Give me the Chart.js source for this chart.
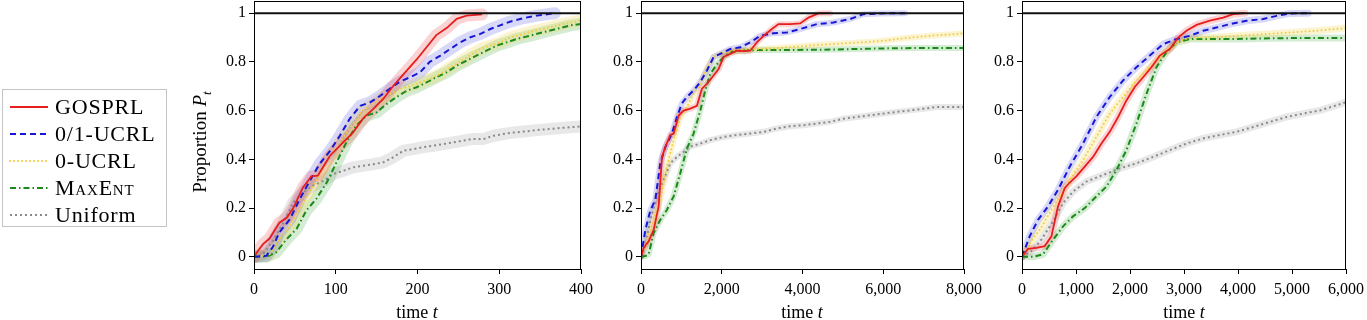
<!DOCTYPE html>
<html>
<head>
<meta charset="utf-8">
<script src="https://cdn.jsdelivr.net/npm/chart.js@4.4.1/dist/chart.umd.min.js"></script>
<style>
  body { margin: 0; background: #fff; }
  #wrap { position: relative; width: 1367px; height: 320px; overflow: hidden; font-family: "Liberation Serif", "DejaVu Serif", serif; }
  canvas { position: absolute; top: 0; }
  .xt { position: absolute; top: 302px; font-size: 18px; width: 200px; text-align: center; }
  .yt { position: absolute; font-size: 19px; white-space: nowrap; transform: translate(-50%, -50%) rotate(-90deg); }
  #legend { position: absolute; left: 2px; top: 89px; width: 165px; height: 138px; border: 1px solid #c4c4c4; box-sizing: border-box; }
  .item { position: absolute; left: 6px; height: 26px; font-size: 22px; letter-spacing: 0.8px; line-height: 26px; white-space: nowrap; }
  .item svg { position: absolute; left: 0; top: 8px; }
  .item span { position: absolute; left: 46px; top: 0; }
</style>
</head>
<body>
<div id="wrap">
  <canvas id="c1" width="420" height="320" style="left:190px"></canvas>
  <canvas id="c2" width="410" height="320" style="left:590px"></canvas>
  <canvas id="c3" width="392" height="320" style="left:975px"></canvas>
  <div class="yt" style="left:202px; top:142px">Proportion <i>P</i><sub style="font-size:13px"><i>t</i></sub></div>
  <div class="xt" style="left:317px">time <i>t</i></div>
  <div class="xt" style="left:702px">time <i>t</i></div>
  <div class="xt" style="left:1084px">time <i>t</i></div>
  <div id="legend"></div>
</div>
<script>
// series names, colours
const names = ['GOSPRL', '0/1-UCRL', '0-UCRL', 'MaxEnt', 'Uniform'];
const colors = ['#e81d1d', '#1717d4', '#f2cd3c', '#1b8a1b', '#8a8a8a'];
const bands = ['rgba(232,60,60,0.22)', 'rgba(40,40,220,0.18)', 'rgba(245,210,70,0.25)', 'rgba(40,160,40,0.2)', 'rgba(150,150,150,0.22)'];
const dashes = [[], [6, 4], [0, 4], [6, 3, 1.5, 3], [2, 3]];
const caps = ['butt', 'butt', 'round', 'butt', 'butt'];

const yTicks = [0, 0.2, 0.4, 0.6, 0.8, 1];
const p1Ticks = [0, 100, 200, 300, 400];
const p2Ticks = [0, 2000, 4000, 6000, 8000];
const p3Ticks = [0, 1000, 2000, 3000, 4000, 5000, 6000];
const target = 1;

// plot 1
const p1GosprlT = [0, 5, 11, 19, 31, 40, 48, 60, 70, 78, 93, 109, 121, 134, 146, 158, 170, 183, 199, 211, 223, 236, 248, 260, 279];
const p1GosprlY = [0, 0.025, 0.052, 0.075, 0.14, 0.16, 0.2, 0.285, 0.33, 0.333, 0.415, 0.47, 0.51, 0.57, 0.607, 0.648, 0.7, 0.75, 0.81, 0.86, 0.91, 0.94, 0.977, 0.99, 0.995];
const p1Ucrl01T = [0, 15, 23, 31, 44, 56, 68, 80, 93, 105, 117, 130, 142, 154, 166, 179, 191, 203, 215, 228, 240, 252, 264, 277, 289, 301, 313, 330, 346, 368];
const p1Ucrl01Y = [0, 0.004, 0.04, 0.1, 0.155, 0.237, 0.31, 0.38, 0.435, 0.497, 0.566, 0.62, 0.634, 0.66, 0.69, 0.72, 0.737, 0.757, 0.8, 0.826, 0.853, 0.88, 0.9, 0.915, 0.935, 0.95, 0.965, 0.98, 0.99, 1.0];
const p1Ucrl0T = [0, 19, 31, 44, 56, 68, 80, 93, 105, 117, 130, 142, 154, 166, 179, 191, 203, 215, 228, 240, 252, 264, 277, 289, 301, 313, 330, 346, 362, 379, 400];
const p1Ucrl0Y = [0, 0.01, 0.07, 0.127, 0.196, 0.264, 0.333, 0.408, 0.47, 0.525, 0.593, 0.62, 0.648, 0.668, 0.69, 0.7, 0.716, 0.73, 0.75, 0.778, 0.8, 0.826, 0.853, 0.867, 0.88, 0.9, 0.915, 0.93, 0.942, 0.956, 0.97];
const p1MaxentT = [0, 15, 27, 40, 52, 64, 76, 89, 101, 113, 125, 138, 150, 162, 174, 187, 199, 211, 223, 236, 248, 260, 272, 285, 297, 309, 322, 338, 354, 371, 387, 400];
const p1MaxentY = [0, 0, 0.018, 0.073, 0.114, 0.19, 0.237, 0.305, 0.388, 0.47, 0.538, 0.58, 0.593, 0.627, 0.655, 0.682, 0.696, 0.716, 0.737, 0.758, 0.785, 0.805, 0.826, 0.847, 0.867, 0.88, 0.895, 0.908, 0.922, 0.936, 0.95, 0.956];
const p1UniformT = [0, 11, 23, 36, 48, 60, 72, 85, 97, 109, 121, 134, 146, 158, 170, 183, 195, 207, 219, 232, 244, 256, 268, 281, 293, 305, 317, 330, 346, 362, 379, 400];
const p1UniformY = [0, 0.01, 0.066, 0.14, 0.223, 0.264, 0.292, 0.312, 0.34, 0.353, 0.367, 0.374, 0.38, 0.388, 0.408, 0.436, 0.442, 0.45, 0.456, 0.463, 0.47, 0.477, 0.484, 0.484, 0.497, 0.504, 0.51, 0.514, 0.52, 0.525, 0.53, 0.535];

// plot 2
const p2GosprlT = [0, 66, 190, 313, 437, 520, 602, 726, 808, 932, 1056, 1220, 1385, 1509, 1633, 1798, 1922, 2045, 2210, 2375, 2540, 2705, 2870, 3035, 3241, 3406, 3695, 3942, 4148, 4396, 4684];
const p2GosprlY = [0, 0.037, 0.064, 0.11, 0.207, 0.41, 0.45, 0.5, 0.506, 0.58, 0.6, 0.608, 0.62, 0.69, 0.71, 0.744, 0.771, 0.82, 0.833, 0.846, 0.844, 0.846, 0.88, 0.907, 0.935, 0.955, 0.955, 0.958, 0.982, 0.999, 1.0];
const p2Ucrl01T = [0, 107, 231, 355, 478, 602, 767, 891, 1014, 1138, 1303, 1468, 1633, 1798, 1963, 2210, 2458, 2705, 2952, 3282, 3612, 3942, 4354, 4767, 5179, 5509, 5921, 6540];
const p2Ucrl01Y = [0, 0.11, 0.19, 0.234, 0.384, 0.45, 0.506, 0.574, 0.63, 0.656, 0.683, 0.717, 0.765, 0.82, 0.833, 0.853, 0.86, 0.88, 0.907, 0.918, 0.921, 0.935, 0.955, 0.962, 0.976, 0.996, 0.999, 1.0];
const p2Ucrl0T = [0, 148, 313, 478, 643, 808, 973, 1138, 1303, 1468, 1633, 1798, 1963, 2210, 2540, 2870, 3365, 3860, 4519, 5179, 5839, 6499, 7158, 8000];
const p2Ucrl0Y = [0, 0.07, 0.152, 0.234, 0.37, 0.479, 0.574, 0.615, 0.67, 0.71, 0.778, 0.82, 0.833, 0.846, 0.849, 0.853, 0.857, 0.863, 0.871, 0.878, 0.884, 0.897, 0.907, 0.917];
const p2MaxentT = [0, 107, 190, 313, 478, 643, 808, 973, 1138, 1303, 1468, 1592, 1715, 1880, 2045, 2210, 2458, 2870, 3695, 4519, 5344, 6169, 6993, 8000];
const p2MaxentY = [0, 0.003, 0.01, 0.098, 0.152, 0.193, 0.248, 0.343, 0.445, 0.506, 0.6, 0.683, 0.751, 0.79, 0.82, 0.84, 0.846, 0.849, 0.849, 0.85, 0.853, 0.856, 0.857, 0.857];
const p2UniformT = [0, 107, 231, 396, 561, 726, 891, 1056, 1220, 1468, 1715, 2045, 2375, 2705, 3035, 3365, 3695, 4025, 4354, 4684, 5014, 5344, 5674, 6004, 6334, 6664, 6993, 7323, 8000];
const p2UniformY = [0, 0.044, 0.152, 0.248, 0.316, 0.384, 0.41, 0.431, 0.452, 0.465, 0.479, 0.492, 0.5, 0.506, 0.513, 0.527, 0.536, 0.54, 0.547, 0.554, 0.567, 0.574, 0.581, 0.588, 0.595, 0.601, 0.608, 0.615, 0.615];

// plot 3
const p3GosprlT = [0, 111, 266, 420, 544, 667, 791, 884, 1007, 1162, 1316, 1471, 1625, 1780, 1934, 2089, 2243, 2397, 2552, 2737, 2892, 3046, 3232, 3479, 3726, 3911, 4128];
const p3GosprlY = [0, 0.033, 0.037, 0.044, 0.084, 0.207, 0.282, 0.305, 0.33, 0.37, 0.41, 0.465, 0.513, 0.574, 0.642, 0.697, 0.737, 0.778, 0.826, 0.853, 0.9, 0.928, 0.952, 0.969, 0.982, 0.996, 1.0];
const p3Ucrl01T = [0, 142, 297, 482, 667, 884, 1131, 1378, 1625, 1872, 2119, 2367, 2614, 2861, 3108, 3355, 3602, 3849, 4159, 4467, 4715, 4962, 5301];
const p3Ucrl01Y = [0, 0.084, 0.152, 0.207, 0.275, 0.37, 0.465, 0.574, 0.656, 0.724, 0.778, 0.826, 0.873, 0.894, 0.907, 0.928, 0.941, 0.955, 0.969, 0.976, 0.989, 0.999, 1.0];
const p3Ucrl0T = [0, 173, 327, 513, 698, 884, 1131, 1378, 1625, 1872, 2119, 2367, 2614, 2861, 3108, 3479, 3973, 4467, 4962, 5456, 6000];
const p3Ucrl0Y = [0, 0.064, 0.11, 0.18, 0.248, 0.316, 0.397, 0.493, 0.588, 0.656, 0.724, 0.778, 0.833, 0.88, 0.9, 0.9, 0.907, 0.914, 0.921, 0.928, 0.939];
const p3MaxentT = [0, 204, 389, 575, 760, 945, 1162, 1378, 1563, 1749, 1934, 2119, 2305, 2490, 2675, 2861, 3108, 3479, 3973, 4591, 5209, 6000];
const p3MaxentY = [0, 0, 0.01, 0.07, 0.125, 0.166, 0.2, 0.248, 0.288, 0.356, 0.438, 0.547, 0.669, 0.778, 0.84, 0.88, 0.894, 0.894, 0.894, 0.897, 0.898, 0.898];
const p3UniformT = [0, 173, 358, 575, 760, 945, 1193, 1502, 1810, 2119, 2428, 2737, 3046, 3355, 3664, 3973, 4282, 4591, 4900, 5209, 5518, 5827, 6000];
const p3UniformY = [0, 0.023, 0.07, 0.146, 0.22, 0.268, 0.309, 0.336, 0.363, 0.384, 0.41, 0.438, 0.465, 0.486, 0.5, 0.513, 0.533, 0.554, 0.574, 0.588, 0.601, 0.622, 0.635];

const tickFont = { family: '"Liberation Serif", "DejaVu Serif", serif', size: 16 };

function pts(t, y) {
    return t.map((v, i) => ({ x: v, y: y[i] }));
}

// box round the plot area
const frame = {
    id: 'frame',
    afterDraw(chart) {
        const a = chart.chartArea, ctx = chart.ctx;
        ctx.save();
        ctx.strokeStyle = '#000';
        ctx.lineWidth = 1;
        ctx.strokeRect(a.left + 0.5, a.top + 0.5, a.right - a.left - 1, a.bottom - a.top);
        ctx.restore();
    }
};

function makeChart(id, series, xmax, xticks, cfg) {
    const datasets = [];
    series.forEach((s, i) => {
        const d = pts(s[0], s[1]);
        datasets.push({ data: d, borderColor: bands[i], borderWidth: cfg.band, order: 20 + i, borderCapStyle: 'round', borderJoinStyle: 'round' });
        datasets.push({ data: d, borderColor: colors[i], borderWidth: i === 0 ? 1.8 : 2, borderDash: dashes[i], borderCapStyle: caps[i], order: 1 + i });
    });
    datasets.push({ data: pts([0, xmax], [target, target]), borderColor: '#111', borderWidth: 2, order: 0 });

    return new Chart(document.getElementById(id), {
        type: 'line',
        data: { datasets: datasets },
        options: {
            responsive: false,
            animation: false,
            layout: { padding: { top: 1, right: cfg.padRight, left: 0, bottom: 0 } },
            plugins: { legend: { display: false }, tooltip: { enabled: false } },
            elements: { point: { radius: 0 }, line: { tension: 0, fill: false } },
            scales: {
                x: {
                    type: 'linear', min: 0, max: xmax,
                    afterBuildTicks: axis => { axis.ticks = xticks.map(v => ({ value: v })); },
                    afterFit: axis => { axis.height = 51; axis.paddingLeft = 0; axis.paddingRight = 0; },
                    grid: { drawOnChartArea: false, tickLength: 5, tickColor: '#000' },
                    border: { color: '#000' },
                    ticks: { font: tickFont, color: '#000', padding: 6, maxRotation: 0, autoSkip: false }
                },
                y: {
                    min: -0.05, max: 1.05,
                    afterBuildTicks: axis => { axis.ticks = yTicks.map(v => ({ value: v })); },
                    afterFit: axis => { axis.width = cfg.yw; axis.paddingTop = 0; axis.paddingBottom = 0; },
                    grid: { drawOnChartArea: false, tickLength: 5, tickColor: '#000' },
                    border: { color: '#000' },
                    ticks: { font: tickFont, color: '#000', padding: 3, callback: v => String(+v.toFixed(2)) }
                }
            }
        },
        plugins: [frame]
    });
}

makeChart('c1', [[p1GosprlT, p1GosprlY], [p1Ucrl01T, p1Ucrl01Y], [p1Ucrl0T, p1Ucrl0Y], [p1MaxentT, p1MaxentY], [p1UniformT, p1UniformY]],
    400, p1Ticks, { yw: 64, padRight: 29, band: 12 });
makeChart('c2', [[p2GosprlT, p2GosprlY], [p2Ucrl01T, p2Ucrl01Y], [p2Ucrl0T, p2Ucrl0Y], [p2MaxentT, p2MaxentY], [p2UniformT, p2UniformY]],
    8000, p2Ticks, { yw: 51, padRight: 36, band: 6 });
makeChart('c3', [[p3GosprlT, p3GosprlY], [p3Ucrl01T, p3Ucrl01Y], [p3Ucrl0T, p3Ucrl0Y], [p3MaxentT, p3MaxentY], [p3UniformT, p3UniformY]],
    6000, p3Ticks, { yw: 47, padRight: 21, band: 7 });

// legend
const legend = document.getElementById('legend');
names.forEach((n, i) => {
    const item = document.createElement('div');
    item.className = 'item';
    item.style.top = (4 + i * 27) + 'px';
    const dash = dashes[i].length ? dashes[i].join(' ') : 'none';
    item.innerHTML = '<svg width="40" height="10"><line x1="1" y1="5" x2="39" y2="5" stroke="' + colors[i] +
        '" stroke-width="2.2" stroke-dasharray="' + dash + '" stroke-linecap="' + caps[i] + '"/></svg>' +
        '<span' + (n === 'MaxEnt' ? ' style="font-variant:small-caps"' : '') + '>' + n + '</span>';
    legend.appendChild(item);
});
</script>
</body>
</html>
